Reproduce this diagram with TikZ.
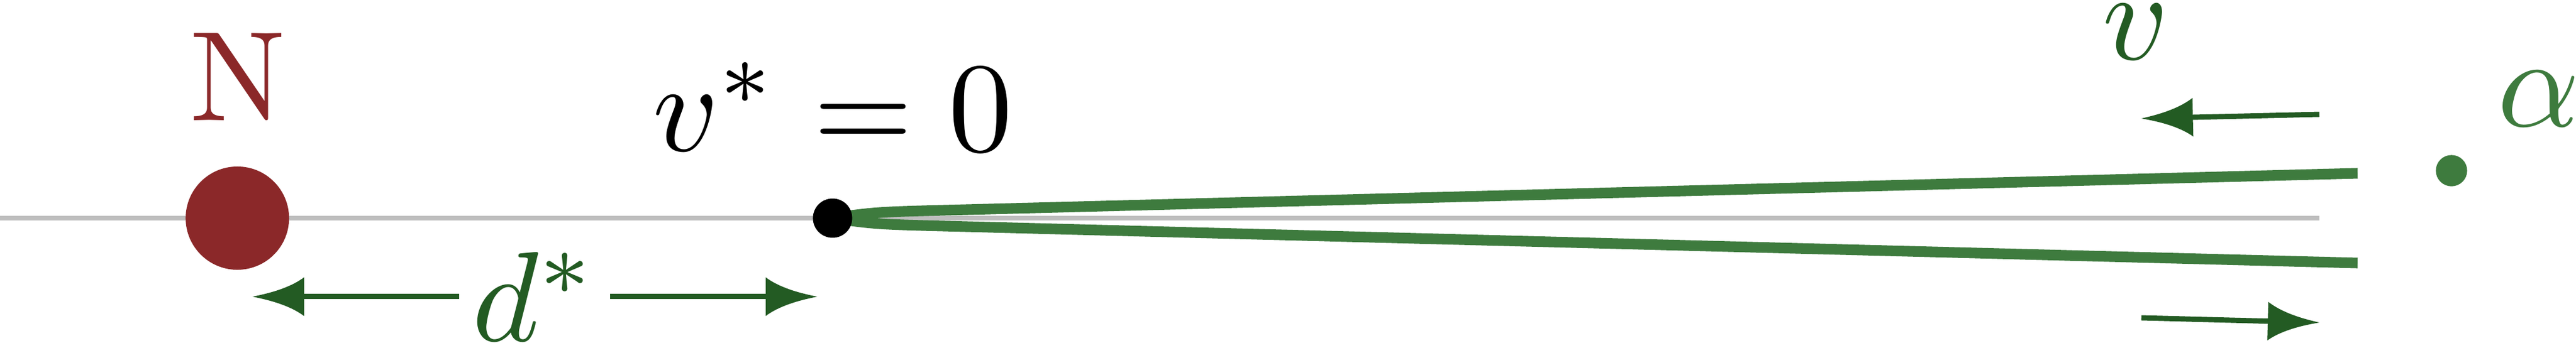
\documentclass[tikz,border=0pt]{standalone}
\usetikzlibrary{calc}
\definecolor{nred}{RGB}{139,40,41}
\definecolor{dgreen}{RGB}{35,91,35}
\definecolor{lgreen}{RGB}{62,123,62}
\definecolor{axisgray}{RGB}{190,190,190}
% concave sides, flat back
\newdimen\finsize
\pgfarrowsdeclare{fin}{fin}
{\finsize=0.28pt\advance\finsize by .3\pgflinewidth
 \pgfarrowsleftextend{+-4\finsize}\pgfarrowsrightextend{+6\finsize}}
{\finsize=0.28pt\advance\finsize by .3\pgflinewidth
 \pgfsetdash{}{0pt}\pgfsetmiterjoin
 \pgfpathmoveto{\pgfqpoint{6\finsize}{0pt}}
 \pgfpathcurveto{\pgfqpoint{3.5\finsize}{.5\finsize}}{\pgfqpoint{-1\finsize}{1.5\finsize}}{\pgfqpoint{-4\finsize}{3.75\finsize}}
 \pgfpathlineto{\pgfqpoint{-4\finsize}{-3.75\finsize}}
 \pgfpathcurveto{\pgfqpoint{-1\finsize}{-1.5\finsize}}{\pgfqpoint{3.5\finsize}{-.5\finsize}}{\pgfqpoint{6\finsize}{0pt}}
 \pgfpathclose\pgfusepathqfill}
\tikzset{dot/.style={circle,fill,inner sep=0pt}}
\begin{document}
\begin{tikzpicture}[x=1mm,y=1mm,line width=0.41pt,>=fin]
            \useasboundingbox (0,-3.694) rectangle (70.76,6);
            \path (0,0) coordinate (O) -- (63.71,0) coordinate (E) (22.87,0) coordinate (s);
            \draw [axisgray] (O) -- (E);
            % the two branches leaving v*=0
            \foreach \s in {1,-1}
                \draw [lgreen, line width=0.83pt] (s) .. controls ($(s)+(1.2,{0.17*\s})$) .. ($(s)+(3.5,{0.229*\s})$) -- ($(s)+(41.89,{1.234*\s})$);
            \node [dot, fill=nred, minimum size=2.84mm] (N) at (6.52,0) {};
            \node [nred, anchor=base] (Nlab) at (6.53,2.69) {N};
            \node [dot, fill=black, minimum size=1.08mm] (star) at (s) {};
            \node [anchor=base] (starlab) at (22.87,1.855) {$v^* = 0$};
            \node [dot, fill=lgreen, minimum size=0.86mm] (alpha) at (67.34,1.306) {};
            \node [lgreen, anchor=base] (alphalab) at (69.74,2.53) {$\alpha$};
            \path (6.935,-2.16) coordinate (dl) (22.45,-2.16) coordinate (dr);
            \draw [<->, dgreen] (dl) -- node [fill=white, inner sep=1pt] (dlab) {$d^*$} (dr);
            \path (63.71,2.855) coordinate (ua) (58.82,2.742) coordinate (ub);
            \path (58.82,-2.742) coordinate (la) (63.71,-2.871) coordinate (lb);
            \draw [->, dgreen] (ua) -- (ub);
            \draw [->, dgreen] (la) -- (lb);
            \node [dgreen, anchor=base] (vlab) at (58.66,4.37) {$v$};
        \end{tikzpicture}
\end{document}
